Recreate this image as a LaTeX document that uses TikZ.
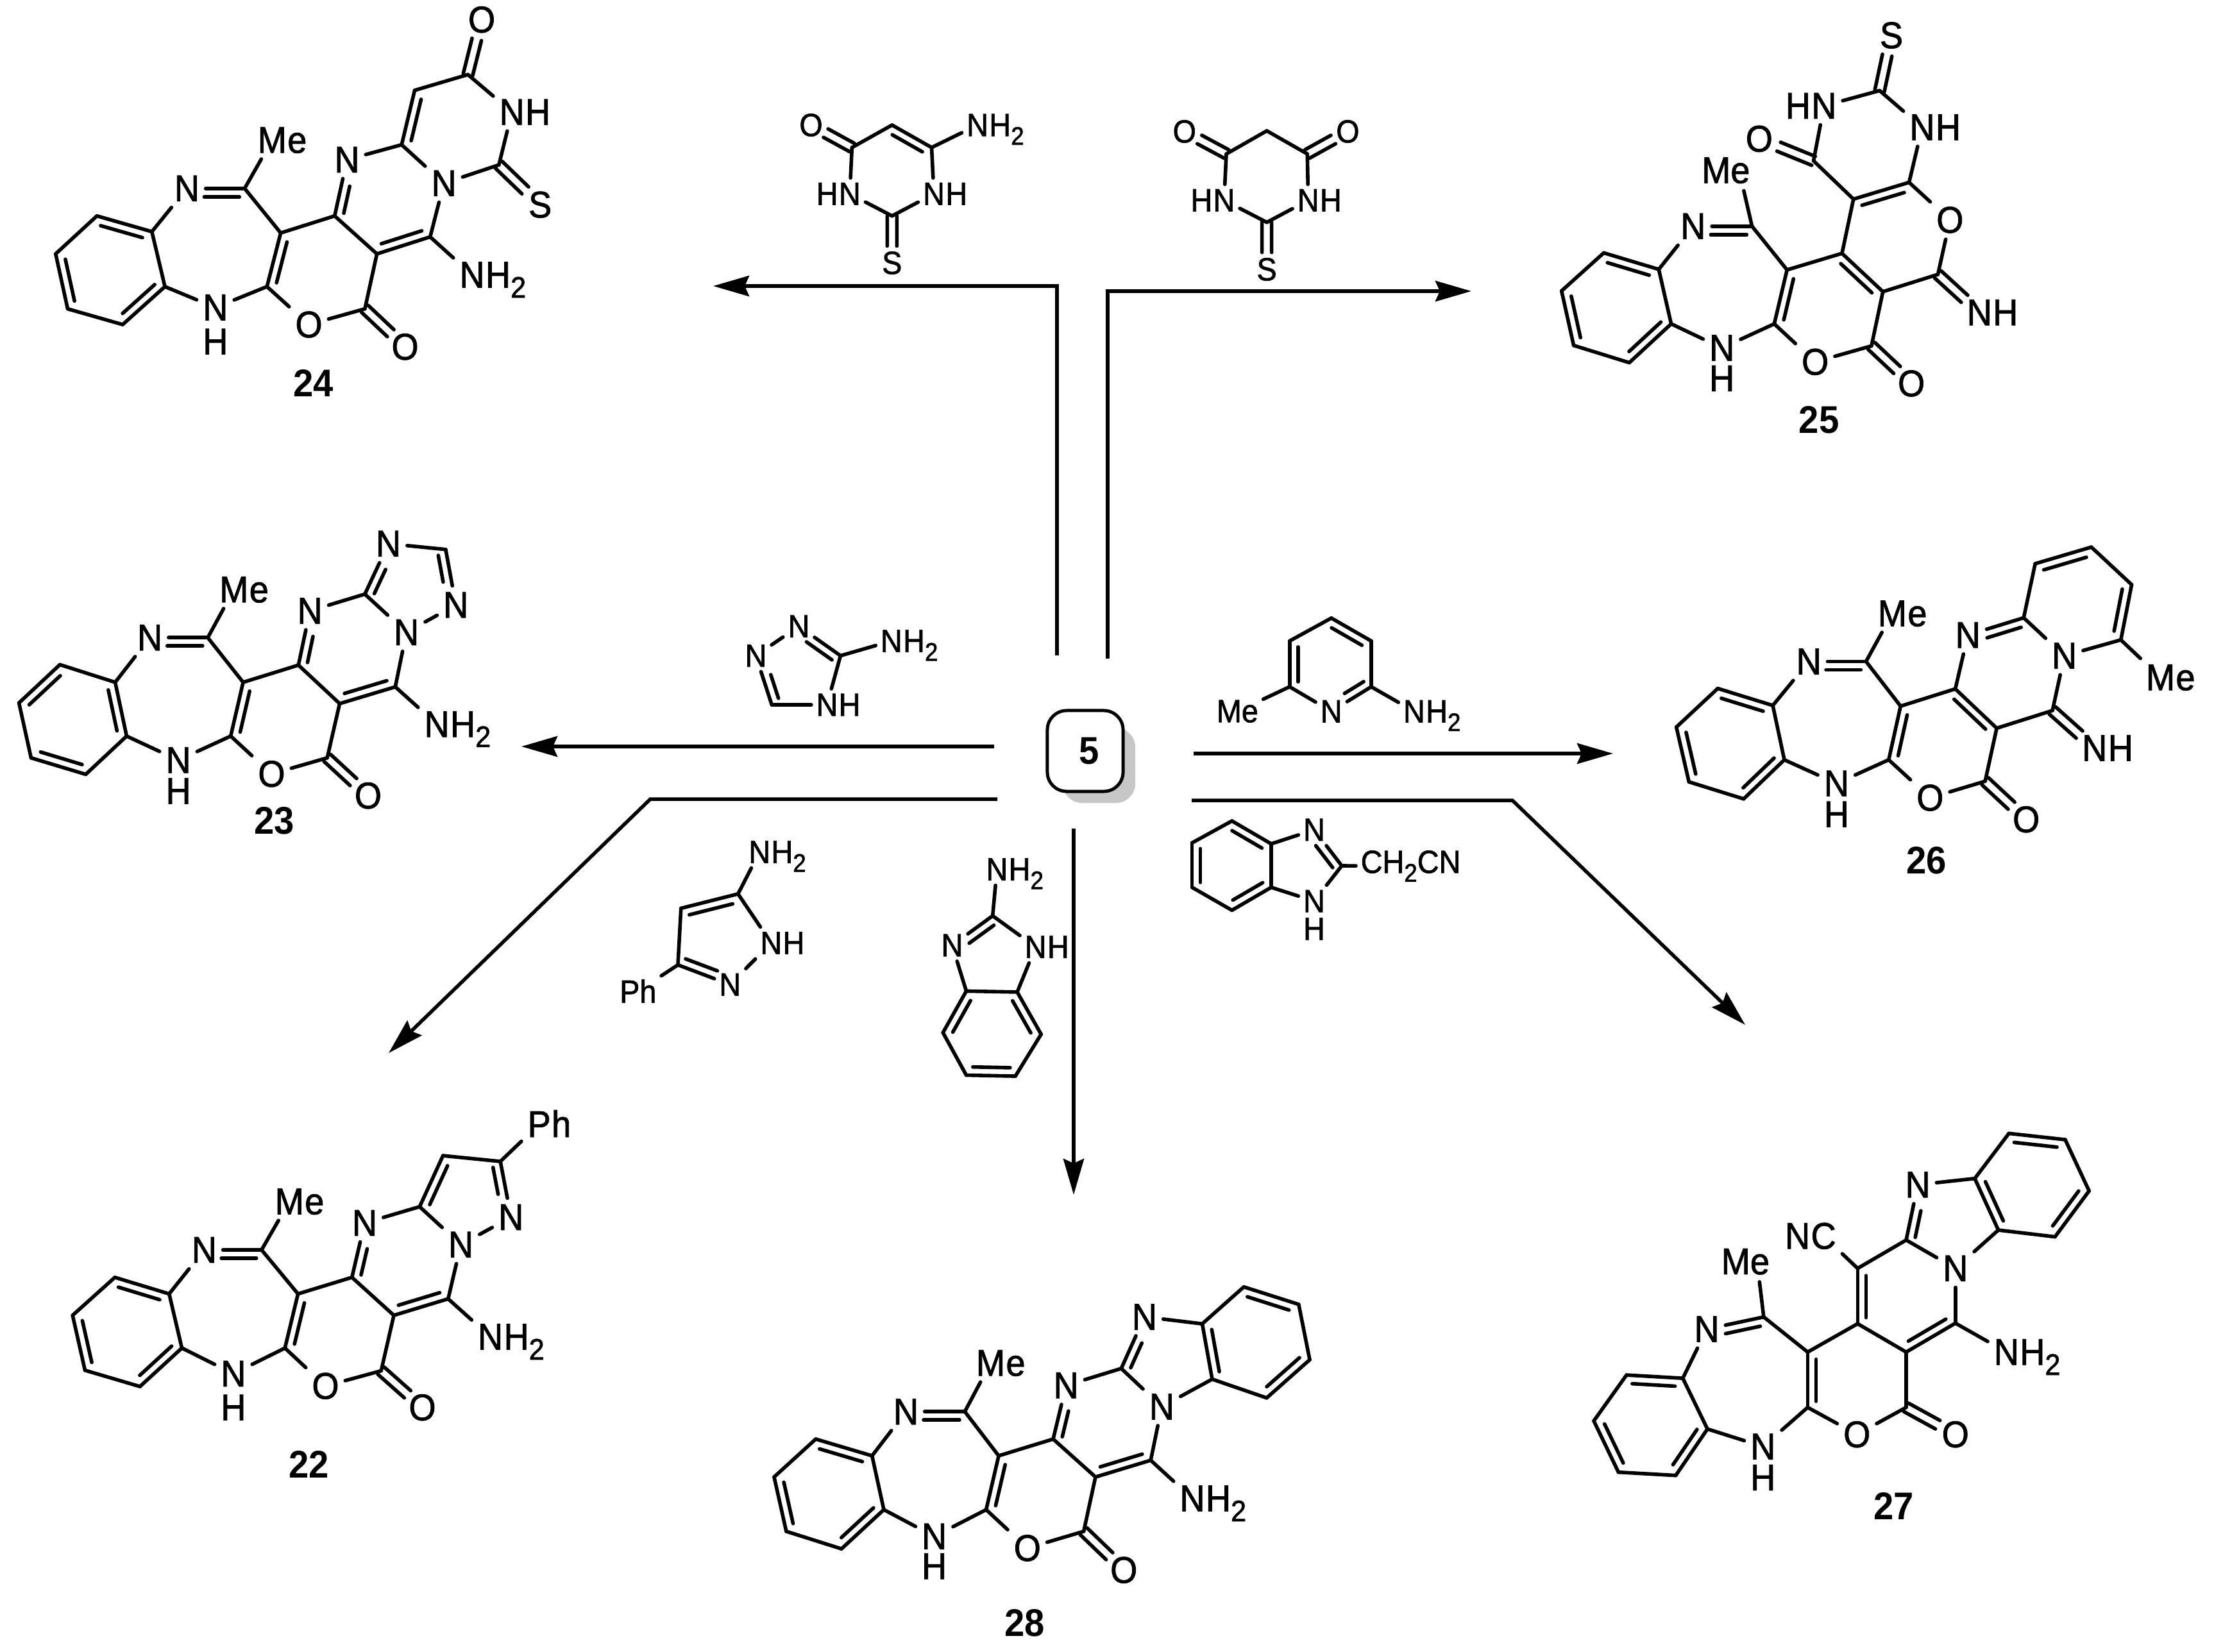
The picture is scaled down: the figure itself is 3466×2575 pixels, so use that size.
\documentclass[tikz,border=0pt]{standalone}
\usepackage{fontspec}
\usepackage{graphicx}
\setmainfont{Liberation Sans}
\newfontfamily\heavyfam[RawFeature={embolden=1.5}]{Liberation Sans}
\usetikzlibrary{calc,arrows.meta}
\newcommand\afont{\heavyfam\fontsize{15.4}{15.4}\selectfont}
\newcommand\asub{\fontsize{12.3}{12.3}\selectfont}
\newcommand\lowsub{\raisebox{-.27em}{\asub 2}}
\newcommand\tallb[1]{\scalebox{1}[1.07]{#1}}
\newcommand\bondgap{.13cm}
\newcommand\symgap{.075cm}
\newcommand\ais{.09cm}
\tikzset{
 bond/.style={line width=.056cm,line cap=round,line join=round},
 atom/.style={font=\afont,inner sep=\ais,text=black},
 tailtext/.style={font=\afont,inner sep=0pt,text=black},
 molno/.style={font=\fontsize{16}{16}\selectfont\bfseries,inner sep=0pt},
 react/.style={line width=.055cm},
 reacthead/.style={react,-{Stealth[length=.56cm,width=.32cm,inset=.07cm]}},
 mapping/.style n args={4}{shift={(#1,#2)},x={#3*.01cm/1568},y={-#4*.01cm/1568}}
}
\newcommand\carbons[1]{\foreach \n/\x/\y in {#1} {\coordinate (\mol\n) at (\x,\y);}}
\newcommand\bonds[1]{\foreach \a/\b in {#1} {\draw[bond] (\mol\a) -- (\mol\b);}}
\newcommand\innerline[4]{\draw[bond] ($(\mol#1)!#3!(\mol#2)!\bondgap!-90:(\mol#2)$) -- ($(\mol#1)!#4!(\mol#2)!\bondgap!-90:(\mol#2)$);}
\newcommand\dblmid[1]{\foreach \a/\b in {#1} {\draw[bond] (\mol\a) -- (\mol\b);\innerline{\a}{\b}{.11}{.87}}}
\newcommand\dblend[1]{\foreach \a/\b in {#1} {\draw[bond] (\mol\a) -- (\mol\b);\innerline{\a}{\b}{.08}{.56}}}
\newcommand\dblstart[1]{\foreach \a/\b in {#1} {\draw[bond] (\mol\a) -- (\mol\b);\innerline{\a}{\b}{.3}{.91}}}
\newcommand\sym[1]{\foreach \a/\b in {#1} {%
 \draw[bond] ($(\mol\a)!0!(\mol\b)!\symgap!-90:(\mol\b)$) -- ($(\mol\a)!.64!(\mol\b)!\symgap!-90:(\mol\b)$);%
 \draw[bond] ($(\mol\a)!0!(\mol\b)!\symgap!90:(\mol\b)$) -- ($(\mol\a)!.64!(\mol\b)!\symgap!90:(\mol\b)$);}}
\newcommand\atom[4]{\node[atom] (\mol#1) at (#2,#3) {\tallb{#4}};}
\newcommand\atomR[5]{\node[atom] (\mol#1) at (#2,#3) {\tallb{#4}};\node[tailtext,anchor=base west,xshift=-\ais] (\mol#1t) at (\mol#1.base east) {\tallb{#5}};}
\newcommand\atomL[5]{\node[atom] (\mol#1) at (#2,#3) {\tallb{#4}};\node[tailtext,anchor=base east,xshift=\ais] (\mol#1t) at (\mol#1.base west) {\tallb{#5}};}
\newcommand\benzA{\dblmid{b1/b2,b3/b4,b5/b6}\bonds{b2/b3,b4/b5,b6/b1}}
\newcommand\core{%
 \bonds{N/b2,b3/nh,nh/c3,c1/me,c1/c2,c3/o,o/c4,c4/c5}%
 \dblstart{N/c1}\dblmid{c3/c2}\sym{c4/oo}}
\begin{document}
\begin{tikzpicture}[x=.01cm,y=-.01cm]
\useasboundingbox (0,0) rectangle (3466,2575);
% ---------- compound 24
\begin{scope}[mapping={60}{0}{840}{640}]
\def\mol{d}
\carbons{b1/170/825,b2/330/885,b3/368/1095,b4/245/1240,b5/85/1180,b6/50/970,c1/600/720,c2/705/890,c3/665/1095,c4/950/1180,c5/985/970,c6/862/825,c7/1057/553,c8/1095/345,c9/1250/285,c10/1340/630,c11/1140/905}
\atom{N}{432}{720}{N}\atomR{me}{680}{535}{M}{e}\atom{nh}{515}{1175}{N}\atom{h}{515}{1305}{H}
\atom{o}{787}{1240}{O}\atom{oo}{1067}{1325}{O}\atom{n2}{898}{610}{N}\atom{n3}{1180}{700}{N}
\atom{top}{1290}{75}{O}\atomR{nhb}{1378}{428}{N}{H}\atom{s}{1460}{782}{S}\atomR{nt}{1262}{1050}{N}{H\lowsub}
\benzA\core
\bonds{c2/c6,c6/c5,n2/c7,c8/c9,c9/nhb,nhb/c10,c10/n3,n3/c7,n3/c11,c11/nt}
\dblend{c6/n2}\dblmid{c7/c8,c11/c5}\sym{c9/top,c10/s}
\node[molno] (d24) at (800,1465) {\tallb{24}};
\end{scope}
% ---------- compound 25
\begin{scope}[mapping={2400}{80}{800}{620}]
\def\mol{e}
\carbons{b1/197/795,b2/365/860,b3/403/1075,b4/275/1228,b5/105/1160,b6/68/945,c1/650/690,c2/757/862,c3/718/1075,c4/1015/1162,c5/1050/948,c6/925/797,c12/1218/880,c13/1130/517,c14/960/583,c15/838/432,c16/1040/155,me/625/550}
\atom{N}{470}{690}{N}\atom{mel}{570}{470}{Me}\atom{nh}{558}{1170}{N}\atom{h}{558}{1290}{H}
\atom{o}{843}{1225}{O}\atom{oo}{1137}{1310}{O}\atomR{nim}{1345}{1030}{N}{H}\atom{o3}{1255}{665}{O}
\atom{ok}{672}{345}{O}\atomL{hn}{870}{215}{N}{H}\atomR{nh2}{1170}{300}{N}{H}\atom{s}{1076}{-63}{S}
\benzA\core
\bonds{c2/c6,c5/c12,c12/o3,o3/c13,c14/c6,c14/c15,c15/hn,hn/c16,c16/nh2,nh2/c13}
\dblmid{c6/c5,c14/c13}\sym{c12/nim,c15/ok,c16/s}
\node[molno] (d25) at (855,1455) {\tallb{25}};
\end{scope}
% ---------- compound 26
\begin{scope}[mapping={2580}{860}{880}{540}]
\def\mol{f}
\carbons{b1/175/620,b2/328/697,b3/360/943,b4/247/1120,b5/95/1043,b6/60/795,c1/587/498,c2/683/700,c3/650/943,c4/918/1040,c5/950/800,c6/835/622,c7/1025/300,c8/1295/400,c9/1325/150,c10/1213/-20,c11/1057/55,c12/1105/720}
\atom{N}{428}{498}{N}\atomR{me}{660}{280}{M}{e}\atom{nh}{505}{1050}{N}\atom{h}{505}{1190}{H}
\atom{o}{765}{1115}{O}\atom{oo}{1032}{1213}{O}\atomR{nim}{1222}{890}{N}{H}\atom{n2}{870}{378}{N}\atom{n3}{1138}{472}{N}\atomR{me2}{1405}{570}{M}{e}
\benzA\core
\bonds{c2/c6,c5/c12,c12/n3,n3/c7,c6/n2,n3/c8,c9/c10,c11/c7,c8/me2}
\dblmid{c6/c5,c9/c8,c11/c10}\dblstart{n2/c7}\sym{c12/nim}
\node[molno] (d26) at (755,1400) {\tallb{26}};
\end{scope}
% ---------- compound 23
\begin{scope}[mapping={0}{780}{800}{560}]
\def\mol{g}
\carbons{b1/183/718,b2/352/795,b3/387/1030,b4/262/1197,b5/95/1125,b6/58/885,c1/635/600,c2/743/795,c3/705/1030,c4/1000/1125,c5/1038/888,c6/912/720,c7/1115/410,c8/1362/215,c11/1208/815}
\atom{N}{458}{600}{N}\atomR{me}{715}{390}{M}{e}\atom{nh}{545}{1135}{N}\atom{h}{545}{1270}{H}
\atom{o}{830}{1195}{O}\atom{oo}{1125}{1290}{O}\atom{n2}{947}{483}{N}\atom{n3}{1242}{577}{N}\atom{n4}{1187}{190}{N}\atom{n5}{1393}{457}{N}\atomR{nt}{1335}{978}{N}{H\lowsub}
\dblmid{b6/b1,b2/b3,b4/b5}\bonds{b1/b2,b3/b4,b5/b6}\core
\bonds{c2/c6,c6/c5,n2/c7,n4/c8,n5/n3,n3/c7,n3/c11,c11/nt}
\dblend{c6/n2,c7/n4,c8/n5}\dblmid{c11/c5}
\node[molno] (d23) at (838,1400) {\tallb{23}};
\end{scope}
% ---------- compound 22
\begin{scope}[mapping={80}{1700}{840}{640}]
\def\mol{k}
\carbons{b1/185/715,b2/343/778,b3/380/985,b4/258/1132,b5/98/1070,b6/62/860,c1/612/610,c2/718/778,c3/680/985,c4/960/1072,c5/997/860,c6/875/715,c7/1072/445,c8/1140/250,c9/1307/272,c11/1155/797}
\atom{N}{445}{610}{N}\atomR{me}{693}{425}{M}{e}\atom{nh}{530}{1083}{N}\atom{h}{530}{1212}{H}
\atom{o}{798}{1130}{O}\atom{oo}{1080}{1212}{O}\atom{n2}{912}{507}{N}\atom{n3}{1192}{590}{N}\atom{n5}{1338}{485}{N}\atomR{nt}{1278}{942}{N}{H\lowsub}\atomR{ph}{1420}{130}{P}{h}
\benzA\core
\bonds{c2/c6,c6/c5,n2/c7,c8/c9,n5/n3,n3/c7,n3/c11,c11/nt,c9/ph}
\dblend{c6/n2,c9/n5}\dblmid{c7/c8,c11/c5}
\node[molno] (d22) at (750,1430) {\tallb{22}};
\end{scope}
% ---------- compound 28
\begin{scope}[mapping={1180}{1960}{900}{610}]
\def\mol{m}
\carbons{b1/160/730,b2/313/797,b3/345/1013,b4/230/1170,b5/80/1100,b6/47/882,c1/565/620,c2/657/797,c3/623/1013,c4/888/1100,c5/920/882,c6/805/730,c7/990/447,c8/1210/268,c9/1237/490,c10/1323/120,c11/1472/190,c12/1502/412,c13/1385/565,c14/1070/815}
\atom{N}{405}{620}{N}\atomR{me}{635}{425}{M}{e}\atom{nh}{482}{1120}{N}\atom{h}{482}{1240}{H}
\atom{o}{735}{1167}{O}\atom{oo}{997}{1255}{O}\atom{n2}{840}{515}{N}\atom{n3}{1100}{600}{N}\atom{n4}{1053}{240}{N}\atomR{nt}{1183}{968}{N}{H\lowsub}
\benzA\core
\bonds{c2/c6,c6/c5,n2/c7,n4/c8,c8/c10,c11/c12,c13/c9,c9/n3,n3/c7,n3/c14,c14/nt}
\dblend{c6/n2,c7/n4}\dblmid{c9/c8,c10/c11,c12/c13,c14/c5}
\node[molno] (d28) at (728,1468) {\tallb{28}};
\end{scope}
% ---------- compound 27
\begin{scope}[mapping={2440}{1740}{860}{660}]
\def\mol{q}
\carbons{b1/175/960,b2/335/972,b3/405/1160,b4/315/1332,b5/152/1320,b6/82/1130,c1/565/745,c2/690/875,c3/690/1080,c4/970/1080,c5/970/875,c6/832/770,c17/832/565,c18/970/460,c19/1165/232,c20/1232/423,c21/1262/65,c22/1422/88,c23/1490/278,c24/1393/448,c25/1110/768,me/553/615}
\atom{N}{403}{790}{N}\atom{mel}{513}{540}{Me}\atom{nh}{563}{1225}{N}\atom{h}{563}{1340}{H}
\atom{o}{830}{1180}{O}\atom{oo}{1110}{1180}{O}\atom{n3}{1110}{565}{N}\atom{n4}{1003}{255}{N}\atomR{nt}{1255}{875}{N}{H\lowsub}\atomL{cn}{735}{445}{C}{N}
\benzA\core
\bonds{c5/c6,c6/c2,c17/cn,c17/c18,n4/c19,c19/c21,c22/c23,c24/c20,c20/n3,n3/c18,n3/c25,c25/nt}
\dblmid{c6/c17,c20/c19,c21/c22,c23/c24,c25/c5}\dblend{c18/n4}
\node[molno] (d27) at (935,1445) {\tallb{27}};
\end{scope}
% ---------- reagents of the top row
\begin{scope}[mapping={1200}{130}{1100}{522.67}]
\renewcommand\afont{\heavyfam\fontsize{13.3}{13.3}\selectfont}\renewcommand\asub{\fontsize{10.5}{10.5}\selectfont}\renewcommand\ais{.07cm}
\def\mol{ra}
\carbons{c1/183/300,c2/272/195,c3/360/300,c4/272/620}
\atom{o}{92}{195}{O}\atomR{nt}{462}{195}{N}{H\lowsub}\atomR{nh}{365}{517}{N}{H}\atomL{hn}{178}{517}{N}{H}\atom{s}{272}{840}{S}
\bonds{c1/c2,c1/hn,c3/nh,hn/c4,nh/c4,c3/nt}\dblmid{c2/c3}\sym{c1/o,c4/s}
\def\mol{rb}
\carbons{c1/1015/330,c2/1105/222,c3/1195/330,c4/1105/650}
\atom{o}{922}{225}{O}\atom{op}{1285}{225}{O}\atomR{nh}{1197}{547}{N}{H}\atomL{hn}{1010}{547}{N}{H}\atom{s}{1105}{870}{S}
\bonds{c1/c2,c2/c3,c1/hn,c3/nh,hn/c4,nh/c4}\sym{c1/o,c3/op,c4/s}
\end{scope}
% ---------- centre row reagents, box and arrows
\begin{scope}[mapping={880}{900}{1500}{800}]
\renewcommand\afont{\heavyfam\fontsize{13.3}{13.3}\selectfont}\renewcommand\asub{\fontsize{10.5}{10.5}\selectfont}\renewcommand\ais{.07cm}
\def\mol{rc}
\carbons{c1/450/240,c2/338/390}
\atom{n1}{382}{150}{N}\atom{n2}{312}{240}{N}\atomR{nt}{533}{195}{N}{H\lowsub}\atomR{nh}{428}{390}{N}{H}
\bonds{n1/n2,c1/nt,c1/nh,nh/c2}\dblstart{n1/c1}\dblend{c2/n2}
\def\mol{rd}
\carbons{c1/1182/195,c2/1250/125,c3/1315/195,c4/1315/335,c5/1182/335}
\atom{n}{1250}{410}{N}\atom{me}{1097}{410}{Me}\atomR{nt}{1385}{410}{N}{H\lowsub}
\bonds{c1/c2,c3/c4,c5/n,c5/me,c4/nt}\dblmid{c2/c3,c5/c1}\dblend{c4/n}
\def\mol{re}
\carbons{c1/283/968,c2/190/1012,c3/185/1185}
\atomR{nt}{318}{840}{N}{H\lowsub}\atom{n}{270}{1245}{N}\atomR{nh}{337}{1118}{N}{H}\atom{ph}{120}{1265}{Ph}
\bonds{c1/nt,c2/c3,n/nh,c1/nh,c3/ph}\dblmid{c2/c1}\dblstart{n/c3}
\def\mol{rf}
\carbons{c/698/1035,c1/655/1265,c2/738/1268,c3/777/1397,c4/735/1525,c5/655/1522,c6/617/1392}
\atomR{nt}{705}{893}{N}{H\lowsub}\atom{n}{632}{1125}{N}\atomR{nh}{768}{1130}{N}{H}
\bonds{c/nt,c/nh,n/c1,nh/c2,c1/c2,c3/c4,c5/c6}\dblstart{n/c}\dblmid{c2/c3,c4/c5,c6/c1}
\def\mol{rg}
\carbons{b1/1088/745,b2/1152/815,b3/1152/948,b4/1088/1018,b5/1023/948,b6/1023/812,c/1267/882}
\atom{n}{1222}{772}{N}\atom{nh}{1222}{990}{N}\atom{h}{1222}{1075}{H}\node[atom,anchor=west] (rgch) at (1290,883) {\tallb{CH\lowsub CN}};
\bonds{b2/b3,b4/b5,b6/b1,b2/n,c/nh,b3/nh}\draw[bond] (rgc) -- (rgch);
\dblmid{b1/b2,b3/b4,b5/b6}\dblstart{n/c}
\end{scope}
% box
\node[fill=black!22,rounded corners=.3cm,minimum width=1.13cm,minimum height=1.17cm,inner sep=0pt] (boxshadow) at (1713.5,1193.5) {};
\node[draw,fill=white,line width=.05cm,rounded corners=.3cm,minimum width=1.18cm,minimum height=1.26cm,inner sep=0pt,font=\fontsize{16}{16}\selectfont\bfseries] (box) at (1692,1171) {\hspace{.12cm}\tallb{5}};
% arrows
\coordinate (tlA) at (1648,1022);\coordinate (tlB) at (1648,446);\coordinate (tlC) at (1112,446);
\coordinate (trA) at (1727,1027);\coordinate (trB) at (1727,454);\coordinate (trC) at (2294,454);
\coordinate (lA) at (1550,1164);\coordinate (lC) at (813,1164);
\coordinate (rA) at (1861,1175);\coordinate (rC) at (2515,1175);
\coordinate (llA) at (1555,1246);\coordinate (llB) at (1014,1246);\coordinate (llC) at (606,1642);
\coordinate (lrA) at (1858,1248);\coordinate (lrB) at (2358,1248);\coordinate (lrC) at (2721,1598);
\coordinate (dA) at (1674,1292);\coordinate (dC) at (1674,1863);
\draw[reacthead,line join=miter] (tlA) -- (tlB) -- (tlC);
\draw[reacthead,line join=miter] (trA) -- (trB) -- (trC);
\draw[reacthead] (lA) -- (lC);
\draw[reacthead] (rA) -- (rC);
\draw[reacthead,line join=miter] (llA) -- (llB) -- (llC);
\draw[reacthead,line join=miter] (lrA) -- (lrB) -- (lrC);
\draw[reacthead] (dA) -- (dC);
\end{tikzpicture}
\end{document}
